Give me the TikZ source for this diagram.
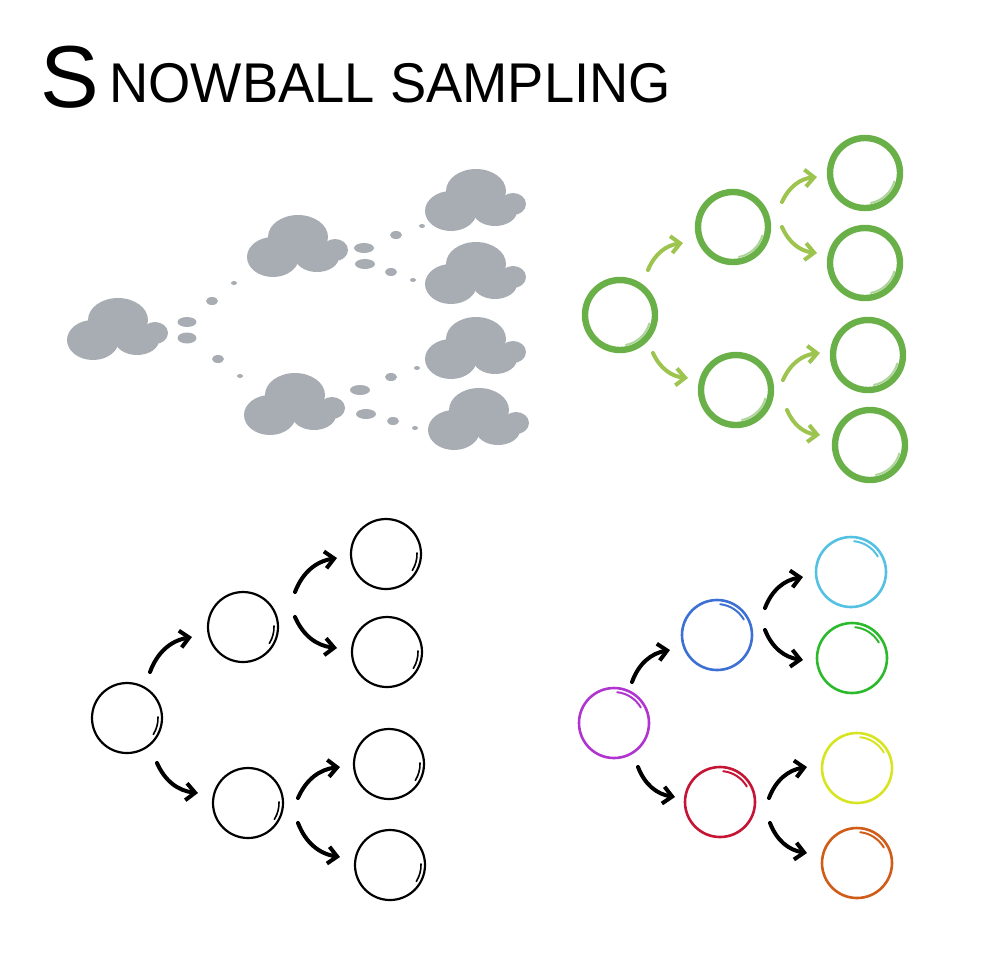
\documentclass[tikz,border=0pt]{standalone}
\usepackage{fontspec}
\setmainfont{Liberation Sans}
\newfontfamily\titlefont[FakeStretch=0.97]{Liberation Sans}
\usetikzlibrary{arrows.meta}

\definecolor{cloudgray}{RGB}{168,173,179}
\definecolor{ringgreen}{RGB}{106,176,72}
\definecolor{arrowgreen}{RGB}{156,196,78}
\definecolor{penpurple}{RGB}{176,52,208}
\definecolor{penblue}{RGB}{60,112,212}
\definecolor{penred}{RGB}{198,20,52}
\definecolor{pencyan}{RGB}{84,192,226}
\definecolor{pengreen}{RGB}{44,186,44}
\definecolor{penyellow}{RGB}{214,228,34}
\definecolor{penorange}{RGB}{208,92,24}

\begin{document}
\begin{tikzpicture}[x = 0.5pt, y = -0.5pt,
        puff/.style = {fill = cloudgray},
        snowcloud/.pic = {
            \fill[cloudgray] (0,-8) ellipse [x radius = 30, y radius = 22];
            \fill[cloudgray] (-25,12) ellipse [x radius = 26, y radius = 20];
            \fill[cloudgray] (19,12) ellipse [x radius = 22, y radius = 15];
            \fill[cloudgray] (37,5) ellipse [x radius = 13, y radius = 11];
        },
        greenring/.style = {circle, draw = ringgreen, line width = 3.2pt, minimum size = 35pt, inner sep = 0pt},
        greenbrush/.style = {draw = ringgreen!55, line width = 1pt},
        blackring/.style = {circle, draw = black, line width = 1.1pt, minimum size = 35pt, inner sep = 0pt},
        blackhook/.style = {draw = black, line width = 0.8pt, line cap = round},
        penring/.style = {circle, draw = #1, line width = 1.3pt, minimum size = 35pt, inner sep = 0pt},
        penhook/.style = {draw = #1, line width = 1pt, line cap = round},
        greenarrow/.style = {draw = arrowgreen, line width = 2pt, line cap = round, -{Straight Barb[length = 4.5pt, width = 8.5pt]}},
        blackarrow/.style = {draw = black, line width = 2pt, line cap = round, -{Straight Barb[length = 4.5pt, width = 8.5pt]}}
    ]

        \useasboundingbox (0,0) rectangle (1000,960);

        % title
        \node[anchor = base west, inner sep = 0pt, font = {\fontsize{44pt}{44pt}\selectfont}] (bigs) at (40,107) {S};
        \node[anchor = base west, inner sep = 0pt, font = {\titlefont\fontsize{28pt}{28pt}\selectfont}] (title) at (109,102) {NOWBALL SAMPLING};

        % clouds
        \pic at (118,328) {snowcloud};
        \pic at (298,245) {snowcloud};
        \pic at (295,403) {snowcloud};
        \pic at (476,199) {snowcloud};
        \pic at (476,272) {snowcloud};
        \pic at (476,347) {snowcloud};
        \pic at (479,418) {snowcloud};

        \fill[puff] (187,322) ellipse [x radius = 9.5, y radius = 5];
        \fill[puff] (187,338) ellipse [x radius = 9.5, y radius = 5.5];
        \fill[puff] (212,301) ellipse [x radius = 6, y radius = 4];
        \fill[puff] (234,283) ellipse [x radius = 3, y radius = 2];
        \fill[puff] (218,359) ellipse [x radius = 6, y radius = 4];
        \fill[puff] (240,376) ellipse [x radius = 3, y radius = 2];

        \fill[puff] (364,248) ellipse [x radius = 10, y radius = 5];
        \fill[puff] (365,264) ellipse [x radius = 10, y radius = 5];
        \fill[puff] (396,235) ellipse [x radius = 6, y radius = 4];
        \fill[puff] (422,226) ellipse [x radius = 3, y radius = 2];
        \fill[puff] (391,272) ellipse [x radius = 6, y radius = 4];
        \fill[puff] (413,280) ellipse [x radius = 3, y radius = 2];

        \fill[puff] (360,390) ellipse [x radius = 10, y radius = 5];
        \fill[puff] (366,414) ellipse [x radius = 10, y radius = 5];
        \fill[puff] (391,377) ellipse [x radius = 6, y radius = 4];
        \fill[puff] (417,368) ellipse [x radius = 3, y radius = 2];
        \fill[puff] (393,421) ellipse [x radius = 6, y radius = 4];
        \fill[puff] (415,428) ellipse [x radius = 3, y radius = 2];

        % green tree
        \node[greenring] (g0) at (620,315) {};
        \node[greenring] (g1) at (733,227) {};
        \node[greenring] (g2) at (736,390) {};
        \node[greenring] (g3) at (865,173) {};
        \node[greenring] (g4) at (865,263) {};
        \node[greenring] (g5) at (868,355) {};
        \node[greenring] (g6) at (870,445) {};

        \draw[greenbrush] ([shift = {(29.5,7.9)}]g0.center) arc [start angle = 15, end angle = 80, radius = 30.5];
        \draw[greenbrush] ([shift = {(29.5,7.9)}]g1.center) arc [start angle = 15, end angle = 80, radius = 30.5];
        \draw[greenbrush] ([shift = {(29.5,7.9)}]g2.center) arc [start angle = 15, end angle = 80, radius = 30.5];
        \draw[greenbrush] ([shift = {(29.5,7.9)}]g3.center) arc [start angle = 15, end angle = 80, radius = 30.5];
        \draw[greenbrush] ([shift = {(29.5,7.9)}]g4.center) arc [start angle = 15, end angle = 80, radius = 30.5];
        \draw[greenbrush] ([shift = {(29.5,7.9)}]g5.center) arc [start angle = 15, end angle = 80, radius = 30.5];
        \draw[greenbrush] ([shift = {(29.5,7.9)}]g6.center) arc [start angle = 15, end angle = 80, radius = 30.5];

        \draw[greenarrow] ([shift = {(28,-45)}]g0.center) to[bend left = 30] ([shift = {(-50,16)}]g1.center);
        \draw[greenarrow] ([shift = {(33,38)}]g0.center) to[bend right = 30] ([shift = {(-48,-12)}]g2.center);
        \draw[greenarrow] ([shift = {(49,-25)}]g1.center) to[bend left = 30] ([shift = {(-48,4)}]g3.center);
        \draw[greenarrow] ([shift = {(49,0)}]g1.center) to[bend right = 30] ([shift = {(-48,-10)}]g4.center);
        \draw[greenarrow] ([shift = {(47,-10)}]g2.center) to[bend left = 30] ([shift = {(-48,-2)}]g5.center);
        \draw[greenarrow] ([shift = {(51,20)}]g2.center) to[bend right = 30] ([shift = {(-50,-10)}]g6.center);

        % black tree
        \node[blackring] (b0) at (127,718) {};
        \node[blackring] (b1) at (243,627) {};
        \node[blackring] (b2) at (248,803) {};
        \node[blackring] (b3) at (386,554) {};
        \node[blackring] (b4) at (387,652) {};
        \node[blackring] (b5) at (389,764) {};
        \node[blackring] (b6) at (390,865) {};

        \draw[blackhook] ([shift = {(31,-1.1)}]b0.center) arc [start angle = -2, end angle = 32, radius = 31];
        \draw[blackhook] ([shift = {(31,-1.1)}]b1.center) arc [start angle = -2, end angle = 32, radius = 31];
        \draw[blackhook] ([shift = {(31,-1.1)}]b2.center) arc [start angle = -2, end angle = 32, radius = 31];
        \draw[blackhook] ([shift = {(31,-1.1)}]b3.center) arc [start angle = -2, end angle = 32, radius = 31];
        \draw[blackhook] ([shift = {(31,-1.1)}]b4.center) arc [start angle = -2, end angle = 32, radius = 31];
        \draw[blackhook] ([shift = {(31,-1.1)}]b5.center) arc [start angle = -2, end angle = 32, radius = 31];
        \draw[blackhook] ([shift = {(31,-1.1)}]b6.center) arc [start angle = -2, end angle = 32, radius = 31];

        \draw[blackarrow] ([shift = {(23,-46)}]b0.center) to[bend left = 30] ([shift = {(-51,10)}]b1.center);
        \draw[blackarrow] ([shift = {(30,45)}]b0.center) to[bend right = 30] ([shift = {(-50,-10)}]b2.center);
        \draw[blackarrow] ([shift = {(52,-35)}]b1.center) to[bend left = 30] ([shift = {(-49,4)}]b3.center);
        \draw[blackarrow] ([shift = {(52,-10)}]b1.center) to[bend right = 30] ([shift = {(-50,-4)}]b4.center);
        \draw[blackarrow] ([shift = {(50,-5)}]b2.center) to[bend left = 30] ([shift = {(-49,3)}]b5.center);
        \draw[blackarrow] ([shift = {(50,20)}]b2.center) to[bend right = 30] ([shift = {(-50,-8)}]b6.center);

        % coloured tree
        \node[penring = penpurple] (c0) at (614,723) {};
        \node[penring = penblue] (c1) at (717,635) {};
        \node[penring = penred] (c2) at (720,802) {};
        \node[penring = pencyan] (c3) at (851,572) {};
        \node[penring = pengreen] (c4) at (852,658) {};
        \node[penring = penyellow] (c5) at (857,768) {};
        \node[penring = penorange] (c6) at (857,863) {};

        \draw[penhook = penpurple] ([shift = {(3.2,-30.8)}]c0.center) arc [start angle = -84, end angle = -30, radius = 31];
        \draw[penhook = penblue] ([shift = {(3.2,-30.8)}]c1.center) arc [start angle = -84, end angle = -30, radius = 31];
        \draw[penhook = penred] ([shift = {(3.2,-30.8)}]c2.center) arc [start angle = -84, end angle = -30, radius = 31];
        \draw[penhook = pencyan] ([shift = {(3.2,-30.8)}]c3.center) arc [start angle = -84, end angle = -30, radius = 31];
        \draw[penhook = pengreen] ([shift = {(3.2,-30.8)}]c4.center) arc [start angle = -84, end angle = -30, radius = 31];
        \draw[penhook = penyellow] ([shift = {(3.2,-30.8)}]c5.center) arc [start angle = -84, end angle = -30, radius = 31];
        \draw[penhook = penorange] ([shift = {(3.2,-30.8)}]c6.center) arc [start angle = -84, end angle = -30, radius = 31];

        \draw[blackarrow] ([shift = {(18,-41)}]c0.center) to[bend left = 30] ([shift = {(-47,15)}]c1.center);
        \draw[blackarrow] ([shift = {(24,44)}]c0.center) to[bend right = 30] ([shift = {(-45,-5)}]c2.center);
        \draw[blackarrow] ([shift = {(48,-27)}]c1.center) to[bend left = 30] ([shift = {(-48,5)}]c3.center);
        \draw[blackarrow] ([shift = {(48,-5)}]c1.center) to[bend right = 30] ([shift = {(-49,2)}]c4.center);
        \draw[blackarrow] ([shift = {(49,-4)}]c2.center) to[bend left = 30] ([shift = {(-50,-1)}]c5.center);
        \draw[blackarrow] ([shift = {(50,21)}]c2.center) to[bend right = 30] ([shift = {(-50,-10)}]c6.center);

    \end{tikzpicture}
\end{document}
